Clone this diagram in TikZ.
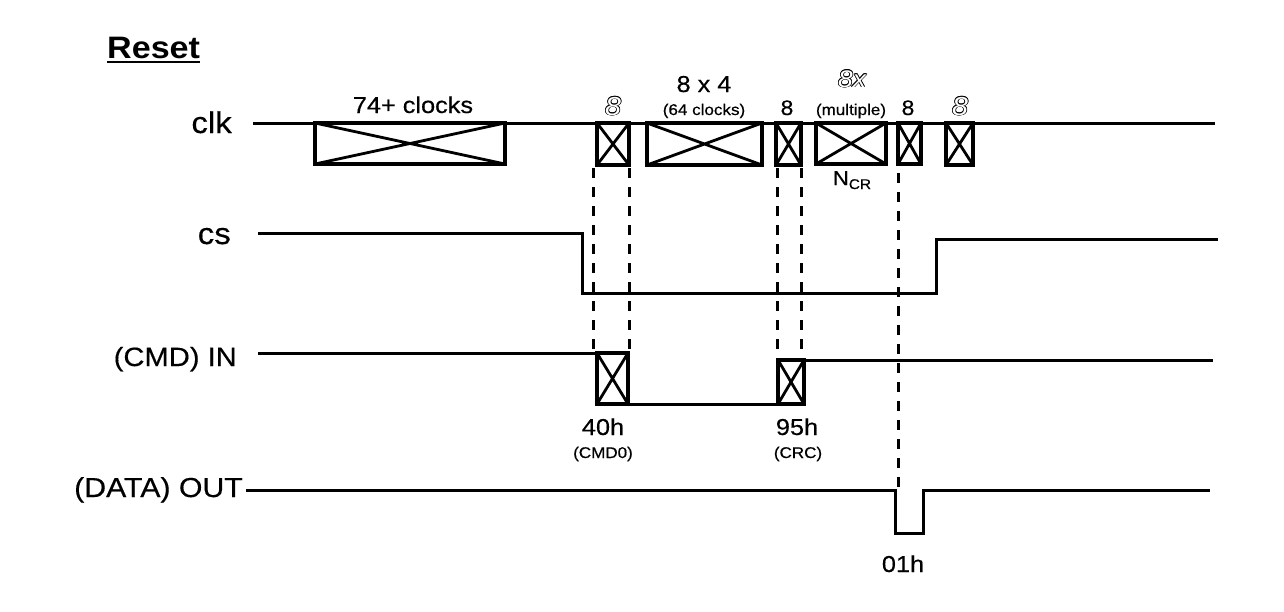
\documentclass[tikz,border=0pt]{standalone}
\usepackage{fontspec}
\setmainfont{Liberation Sans}[FakeStretch=1.1,UprightFeatures={FakeBold=0.4}]
\newcommand\fs[1]{\fontsize{#1}{#1}\selectfont}
\newcommand\hollowtext[1]{\leavevmode
 \rlap{\kern.7pt#1}\rlap{\kern-.7pt#1}\rlap{\raise.7pt\hbox{#1}}\rlap{\lower.7pt\hbox{#1}}%
 \rlap{\kern.5pt\raise.5pt\hbox{#1}}\rlap{\kern-.5pt\raise.5pt\hbox{#1}}%
 \rlap{\kern.5pt\lower.5pt\hbox{#1}}\rlap{\kern-.5pt\lower.5pt\hbox{#1}}%
 \textcolor{white}{#1}}
\newcommand\xbox[4]{\draw[bx] (#1,#2) rectangle (#3,#4); \draw[bxd] (#1,#2) -- (#3,#4) (#1,#4) -- (#3,#2);}
\begin{document}
\begin{tikzpicture}[x=1pt,y=-1pt,
  sig/.style={line width=3pt},
  bx/.style={line width=3.2pt},
  bxd/.style={line width=2.8pt},
  dsh/.style={line width=3pt, dash pattern=on 10pt off 9pt},
  lbl/.style={inner sep=0pt, anchor=base},
  rlbl/.style={inner sep=0pt, anchor=base east}]
\fill[white] (0,0) rectangle (1284,611);
\useasboundingbox (0,0) rectangle (1284,611);

% title
\node[inner sep=0pt, anchor=base west] (reset) at (107,58) {\fs{31}\bfseries Reset};
\draw[line width=2.4pt] ([yshift=-4pt]reset.base west) -- ([yshift=-4pt]reset.base east);

% signal names
\node[rlbl] (clk) at (232,133) {\fs{30}clk};
\node[rlbl] (cs) at (231,244) {\fs{30}cs};
\node[rlbl] (cmdin) at (237,366) {\fs{26.5}(CMD) IN};
\node[rlbl] (dataout) at (243,497) {\fs{27.5}(DATA) OUT};

% dashed guides
\draw[dsh] (593,168) -- (593,350);
\draw[dsh] (629,168) -- (629,350);
\draw[dsh] (777,168) -- (777,357);
\draw[dsh] (801,168) -- (801,357);
\draw[dsh] (898,173) -- (898,490);

% clk boxes
\xbox{315}{123}{505}{164}
\xbox{597}{123}{629}{165}
\xbox{647}{123}{762}{165}
\xbox{776}{123}{801}{165}
\xbox{816}{123}{886}{164}
\xbox{898}{123}{921}{164}
\xbox{946}{123}{973}{165}
\draw[sig] (253,123) -- (1215,123);

% clk labels
\node[lbl] (l74) at (413,113) {\fs{23}74+ clocks};
\node[lbl] (l8a) at (613,115) {\fs{26}\itshape\hollowtext{8}};
\node[lbl] (l8x4) at (704,92) {\fs{23}8 x 4};
\node[lbl] (l64) at (704,115) {\fs{15.5}(64 clocks)};
\node[lbl] (l8b) at (787,115) {\fs{21}8};
\node[lbl] (l8x) at (852,87) {\fs{24}\itshape\hollowtext{8x}};
\node[lbl] (lmul) at (851,115) {\fs{15.5}(multiple)};
\node[lbl] (ncr) at (852,185) {\fs{20}N\raisebox{-4pt}{\fs{14}CR}};
\node[lbl] (l8c) at (908,115) {\fs{21}8};
\node[lbl] (l8d) at (960,115) {\fs{26}\itshape\hollowtext{8}};

% cs
\draw[sig] (258,233) -- (582,233) -- (582,293) -- (936,293) -- (936,239) -- (1218,239);

% cmd in
\draw[sig] (258,353) -- (597,353);
\xbox{597}{353}{628}{404}
\draw[sig] (628,404) -- (778,404);
\xbox{778}{360}{804}{404}
\draw[sig] (804,360) -- (1213,360);
\node[lbl] (l40) at (603,435) {\fs{23}40h};
\node[lbl] (lcmd0) at (603,458) {\fs{15.5}(CMD0)};
\node[lbl] (l95) at (797,435) {\fs{23}95h};
\node[lbl] (lcrc) at (798,458) {\fs{15.5}(CRC)};

% data out
\draw[sig] (246,490) -- (895,490) -- (895,533) -- (923,533) -- (923,490) -- (1210,490);
\node[lbl] (l01) at (903,572) {\fs{23}01h};
\end{tikzpicture}
\end{document}
